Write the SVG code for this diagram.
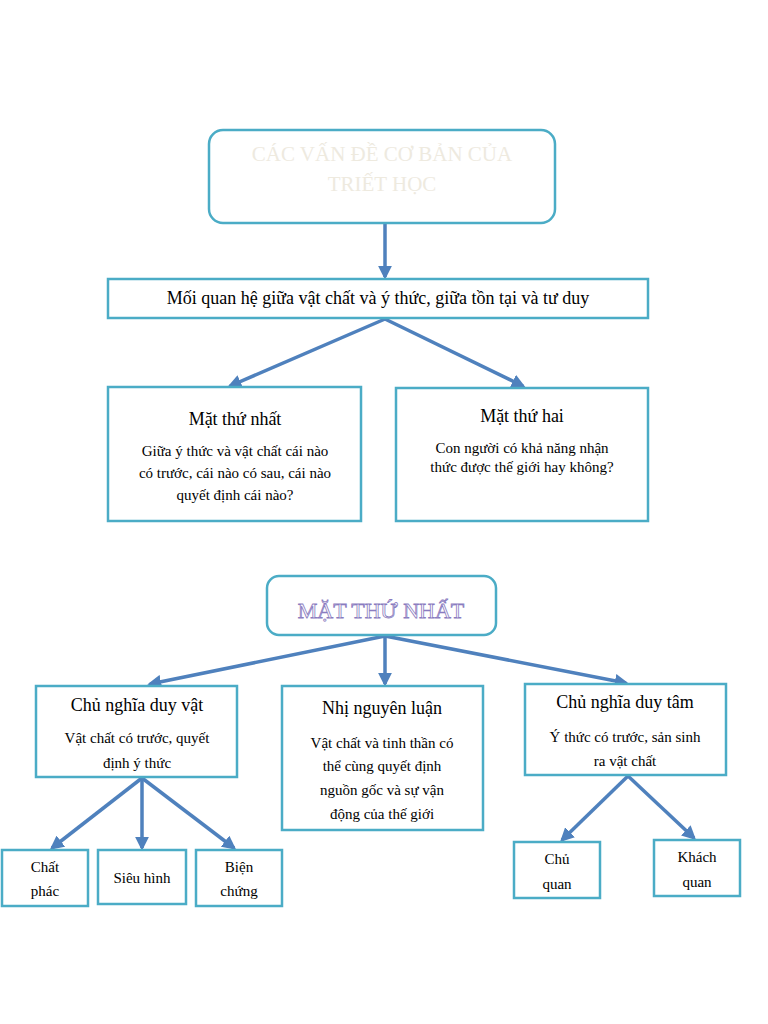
<svg xmlns="http://www.w3.org/2000/svg" width="768" height="1024" viewBox="0 0 768 1024">
<style>
.b{fill:#fff;stroke:#4bacc6;stroke-width:2.5}
.t{font-family:"Liberation Serif",serif;fill:#000;text-anchor:middle}
.l{stroke:#4f81bd;stroke-width:3.5;fill:none;marker-end:url(#a)}
</style>
<defs><marker id="a" viewBox="0 0 10 10" refX="8" refY="5" markerWidth="4" markerHeight="4" orient="auto"><path d="M0,0L10,5L0,10z" fill="#4f81bd"/></marker></defs>
<rect width="768" height="1024" fill="#fff"/>
<g id="connectors">
<line class="l" x1="385" y1="224" x2="385" y2="277"/>
<line class="l" x1="385" y1="319" x2="230" y2="386"/>
<line class="l" x1="385" y1="319" x2="523" y2="386"/>
<line class="l" x1="385" y1="636" x2="150" y2="684"/>
<line class="l" x1="385" y1="636" x2="385" y2="684"/>
<line class="l" x1="385" y1="636" x2="626" y2="683"/>
<line class="l" x1="142" y1="778" x2="52" y2="848"/>
<line class="l" x1="142" y1="778" x2="142" y2="848"/>
<line class="l" x1="142" y1="778" x2="234" y2="848"/>
<line class="l" x1="628" y1="776" x2="562" y2="840"/>
<line class="l" x1="628" y1="776" x2="694" y2="838"/>
</g>
<g id="title"><rect class="b" x="209" y="130" width="346" height="93" rx="14"/>
<text class="t" x="382" y="161" font-size="21" fill="#f0ece0" style="fill:#eeeadf">CÁC VẤN ĐỀ CƠ BẢN CỦA</text>
<text class="t" x="382" y="191" font-size="21" style="fill:#eeeadf">TRIẾT HỌC</text></g>
<g id="relation"><rect class="b" x="108" y="279" width="540" height="39"/>
<text class="t" x="378" y="304" font-size="18">Mối quan hệ giữa vật chất và ý thức, giữa tồn tại và tư duy</text></g>
<g id="mat1"><rect class="b" x="108" y="387" width="253" height="134"/>
<text class="t" x="235" y="425" font-size="18">Mặt thứ nhất</text>
<text class="t" x="235" y="456" font-size="15">Giữa ý thức và vật chất cái nào</text>
<text class="t" x="235" y="478" font-size="15">có trước, cái nào có sau, cái nào</text>
<text class="t" x="235" y="500" font-size="15">quyết định cái nào?</text></g>
<g id="mat2"><rect class="b" x="396" y="388" width="252" height="133"/>
<text class="t" x="522" y="422" font-size="18">Mặt thứ hai</text>
<text class="t" x="522" y="453" font-size="15">Con người có khả năng nhận</text>
<text class="t" x="522" y="472" font-size="15">thức được thế giới hay không?</text></g>
<g id="mat1b"><rect class="b" x="267" y="576" width="229" height="59" rx="12"/>
<text class="t" x="381" y="618" font-size="22" style="fill:#fff;stroke:#8a7cc0;stroke-width:0.8">MẶT THỨ NHẤT</text></g>
<g id="duyvat"><rect class="b" x="36" y="686" width="201" height="91"/>
<text class="t" x="137" y="711" font-size="18">Chủ nghĩa duy vật</text>
<text class="t" x="137" y="743" font-size="15">Vật chất có trước, quyết</text>
<text class="t" x="137" y="768" font-size="15">định ý thức</text></g>
<g id="nhinguyen"><rect class="b" x="282" y="686" width="201" height="144"/>
<text class="t" x="382" y="714" font-size="18">Nhị nguyên luận</text>
<text class="t" x="382" y="748" font-size="15">Vật chất và tinh thần có</text>
<text class="t" x="382" y="771" font-size="15">thể cùng quyết định</text>
<text class="t" x="382" y="795" font-size="15">nguồn gốc và sự  vận</text>
<text class="t" x="382" y="819" font-size="15">động của thế giới</text></g>
<g id="duytam"><rect class="b" x="525" y="684" width="201" height="91"/>
<text class="t" x="625" y="708" font-size="18">Chủ nghĩa duy tâm</text>
<text class="t" x="625" y="742" font-size="15">Ý thức có trước, sản sinh</text>
<text class="t" x="625" y="766" font-size="15">ra vật chất</text></g>
<g id="chatphac"><rect class="b" x="2" y="850" width="86" height="56"/>
<text class="t" x="45" y="872" font-size="15">Chất</text><text class="t" x="45" y="896" font-size="15">phác</text></g>
<g id="sieuhinh"><rect class="b" x="98" y="850" width="88" height="54"/>
<text class="t" x="142" y="883" font-size="15">Siêu hình</text></g>
<g id="bienchung"><rect class="b" x="196" y="850" width="86" height="56"/>
<text class="t" x="239" y="872" font-size="15">Biện</text><text class="t" x="239" y="896" font-size="15">chứng</text></g>
<g id="chuquan"><rect class="b" x="514" y="842" width="86" height="56"/>
<text class="t" x="557" y="864" font-size="15">Chủ</text><text class="t" x="557" y="889" font-size="15">quan</text></g>
<g id="khachquan"><rect class="b" x="654" y="840" width="86" height="56"/>
<text class="t" x="697" y="862" font-size="15">Khách</text><text class="t" x="697" y="887" font-size="15">quan</text></g>
</svg>
